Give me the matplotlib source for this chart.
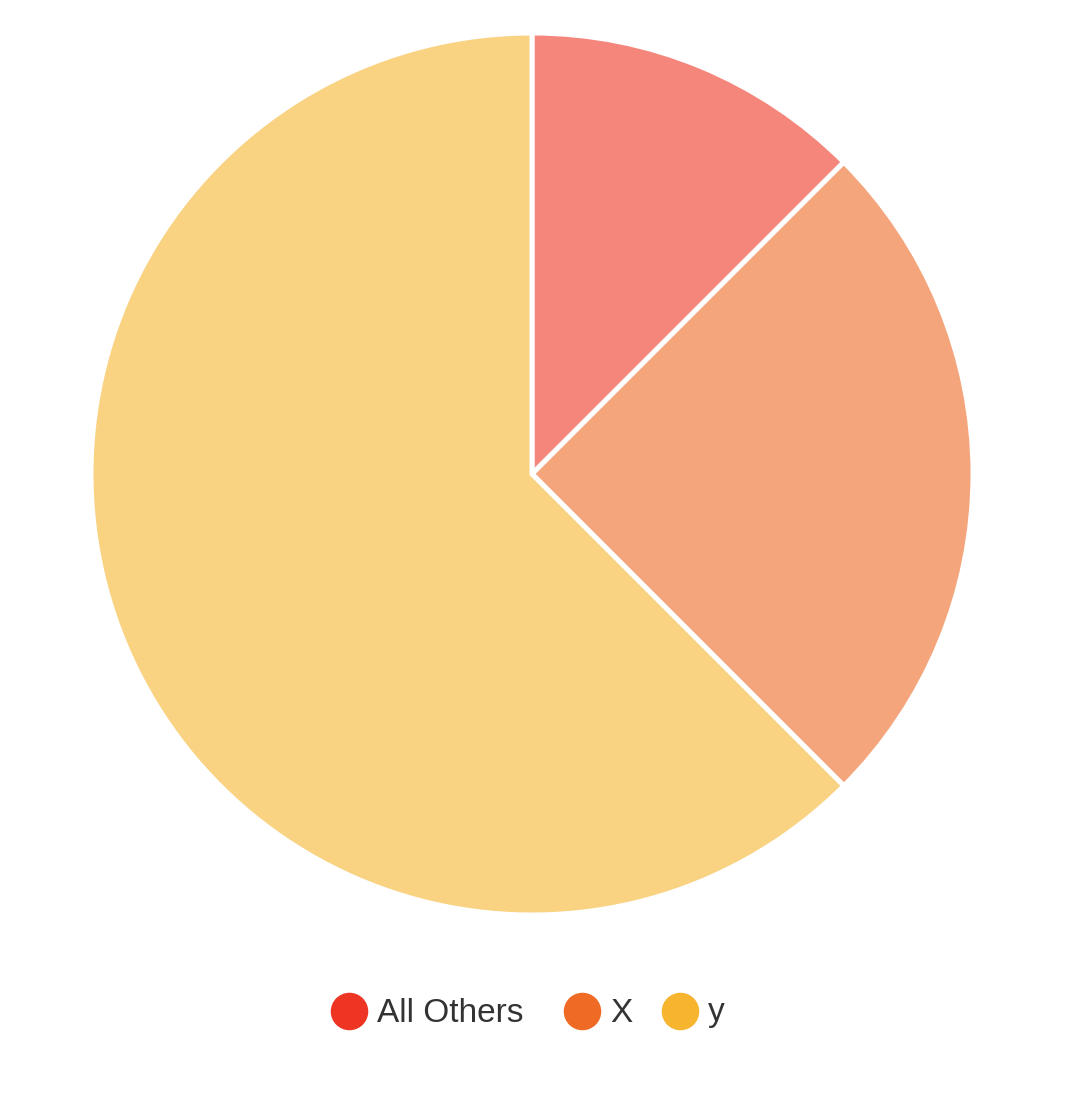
import matplotlib.pyplot as plt
from matplotlib.colors import to_rgba

labels = ["All Others", "X", "y"]
values = [12.5, 25.0, 62.5]
colors = ["#EE3524", "#EF6A25", "#F6B42F"]

plt.rcParams["font.family"] = ["Liberation Sans", "DejaVu Sans"]

W, H = 1088, 1094
fig = plt.figure(figsize=(W / 100, H / 100), dpi=100)
cx, cy, r = 532, 474, 441
ax = fig.add_axes([(cx - r) / W, (H - cy - r) / H, 2 * r / W, 2 * r / H])

light = [to_rgba(c, 0.6) for c in colors]
ax.pie(values, colors=light, startangle=90, counterclock=False, radius=1.0,
       wedgeprops=dict(edgecolor="white", linewidth=3.6))
ax.set_xlim(-1, 1)
ax.set_ylim(-1, 1)
ax.set_aspect("equal")
ax.axis("off")

# legend drawn by hand so the spacing follows the reference
marker_x = [349, 582, 680]
leg_y = 1 - 1011 / H
for mx, lab, c in zip(marker_x, labels, colors):
    fig.add_artist(plt.Line2D([mx / W], [leg_y], marker="o", markersize=26,
                              markerfacecolor=c, markeredgecolor=c,
                              transform=fig.transFigure))
    fig.text((mx + 28) / W, leg_y - 2 / H, lab, fontsize=24, color="#333333",
             va="center", ha="left")

fig.savefig("out.png", dpi=100, facecolor="white")
